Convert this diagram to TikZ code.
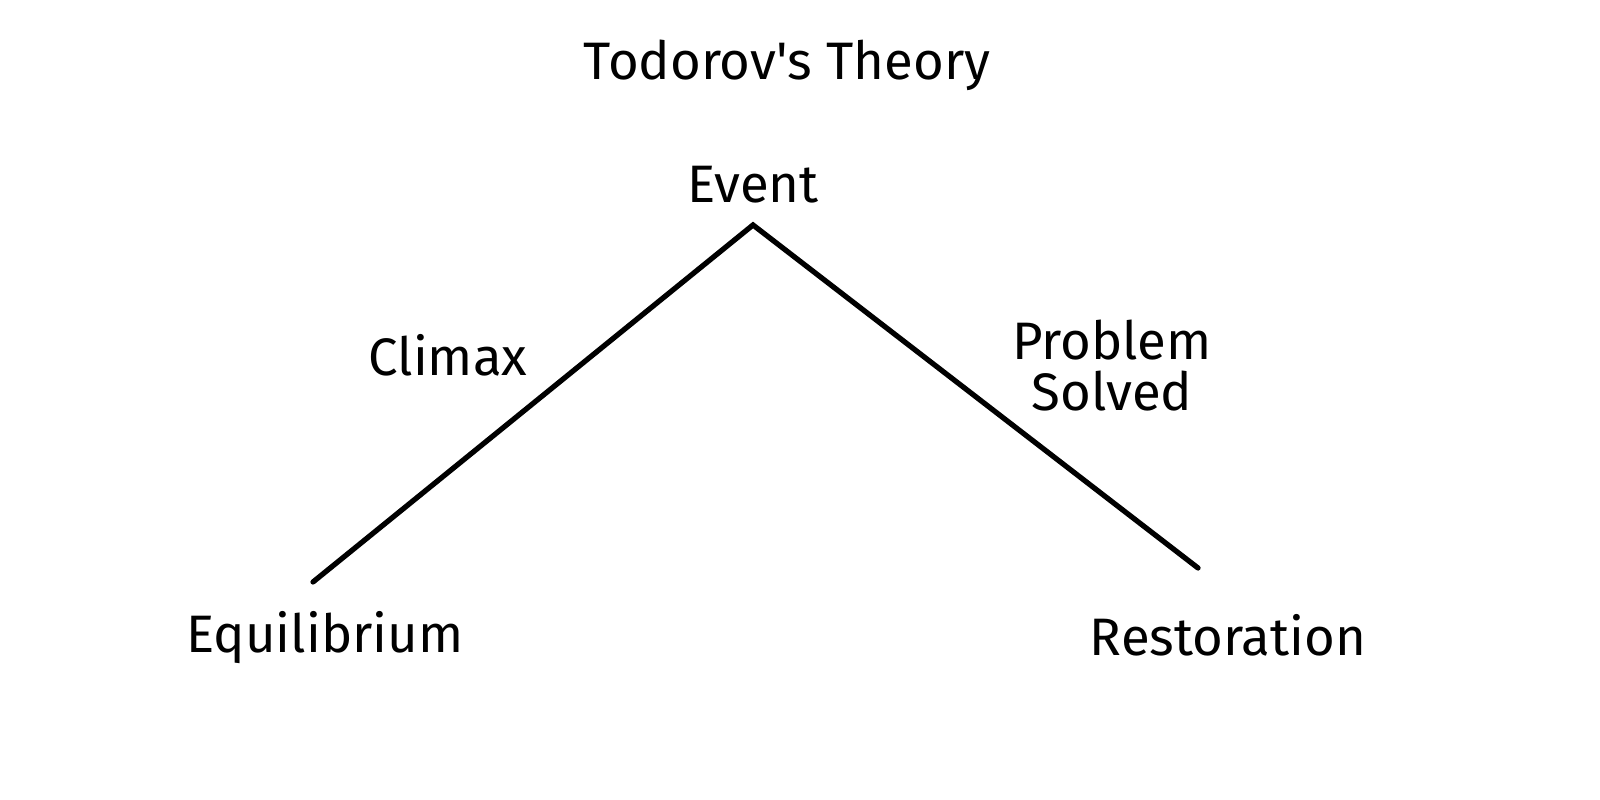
\documentclass[tikz,border=0pt]{standalone}
\usepackage{fontspec}
\setmainfont{Fira Sans}
\usetikzlibrary{positioning}

\begin{document}
\begin{tikzpicture}[
    every node/.style={font=\fontsize{15}{14.5}\selectfont\mdseries, align=center, inner sep=0pt},
    stage/.style={line width=1.5pt, line cap=round, line join=miter}
]
\useasboundingbox (0,0) rectangle (16,8);

% Titel
\node (title) at (7.87,7.35) {Todorov\textquotesingle s Theory};

% Eckpunkte
\coordinate (start) at (3.13,2.18);
\coordinate (peak) at (7.53,5.75);
\coordinate (finish) at (11.98,2.32);

% Beschriftungen
\node (event) at (7.53,6.15) {Event};
\node (equil) at (3.25,1.62) {Equilibrium};
\node (resto) at (12.28,1.65) {Restoration};
\node (climax) at (4.48,4.45) {Climax};
\node (solved) at (11.12,4.34) {Problem\\Solved};

% Linien
\draw[stage] (start) -- (peak) -- (finish);

\end{tikzpicture}
\end{document}
